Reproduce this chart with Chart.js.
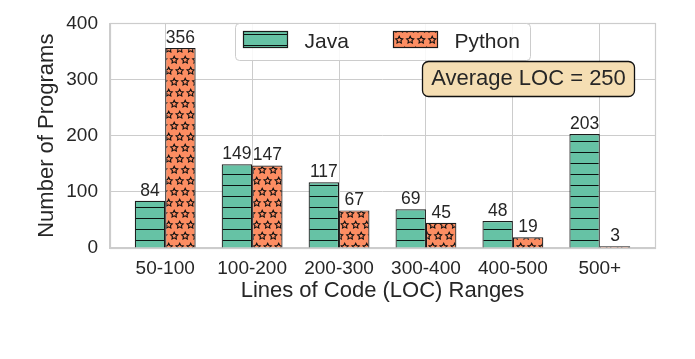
<!DOCTYPE html>
<html>
<head>
<meta charset="utf-8">
<script src="https://cdn.jsdelivr.net/npm/chart.js@4.4.0/dist/chart.umd.min.js"></script>
<style>
  html, body { margin: 0; padding: 0; background: #fff; }
  #wrap { width: 695px; height: 359px; }
</style>
</head>
<body>
<div id="wrap"><canvas id="chart" width="695" height="359"></canvas></div>
<script>
// data
const categories = ['50-100', '100-200', '200-300', '300-400', '400-500', '500+'];
const javaCounts = [84, 149, 117, 69, 48, 203];
const pythonCounts = [356, 147, 67, 45, 19, 3];
const yTicks = [0, 100, 200, 300, 400];
const seriesNames = ['Java', 'Python'];
const averageLoc = 250;

const FONT = '"Liberation Sans", Arial, sans-serif';
const TEXT = '#262626';
const GRID = '#cccccc';
const JAVA_COLOR = '#66c2a5';
const PYTHON_COLOR = '#fc8d62';

const canvas = document.getElementById('chart');
const ctx = canvas.getContext('2d');

// hatch '-' : horizontal lines every 11px
function linePattern(color, dx, dy) {
    const c = document.createElement('canvas');
    c.width = 11; c.height = 11;
    const g = c.getContext('2d');
    g.fillStyle = color;
    g.fillRect(0, 0, 11, 11);
    g.fillStyle = 'rgba(0,0,0,0.9)';
    g.fillRect(0, 9, 11, 1);
    const p = ctx.createPattern(c, 'repeat');
    if (dx || dy) p.setTransform(new DOMMatrix().translate(dx, dy));
    return p;
}

function drawStar(g, cx, cy, r) {
    g.beginPath();
    for (let k = 0; k < 10; k++) {
        const rr = k % 2 === 0 ? r : r * 0.5;
        const a = -Math.PI / 2 + k * Math.PI / 5;
        const x = cx + rr * Math.cos(a), y = cy + rr * Math.sin(a);
        if (k === 0) g.moveTo(x, y); else g.lineTo(x, y);
    }
    g.closePath();
    g.stroke();
}

// hatch '*' : staggered rows of star outlines
function starPattern(color, dx, dy) {
    const c = document.createElement('canvas');
    c.width = 11; c.height = 22;
    const g = c.getContext('2d');
    g.fillStyle = color;
    g.fillRect(0, 0, 11, 22);
    g.strokeStyle = '#111';
    g.lineWidth = 1.1;
    const pts = [[3.7, 5], [9.2, 16]];
    pts.forEach(([x, y]) => {
        for (let ox = -11; ox <= 11; ox += 11)
            for (let oy = -22; oy <= 22; oy += 22)
                drawStar(g, x + ox, y + oy, 3.7);
    });
    const p = ctx.createPattern(c, 'repeat');
    if (dx || dy) p.setTransform(new DOMMatrix().translate(dx, dy));
    return p;
}

const javaFill = linePattern(JAVA_COLOR);
const pythonFill = starPattern(PYTHON_COLOR);

// light grey frame around the plot area (all four spines)
const framePlugin = {
    id: 'frame',
    beforeDatasetsDraw(chart) {
        const a = chart.chartArea;
        const c = chart.ctx;
        c.save();
        c.strokeStyle = GRID;
        c.lineWidth = 1.2;
        c.strokeRect(Math.round(a.left) + 0.5, Math.round(a.top) + 0.5,
            Math.round(a.right - a.left), Math.round(a.bottom - a.top));
        c.restore();
    }
};

// value labels above every bar
const valueLabels = {
    id: 'valueLabels',
    afterDatasetsDraw(chart) {
        const c = chart.ctx;
        c.save();
        c.font = '17.5px ' + FONT;
        c.fillStyle = TEXT;
        c.textAlign = 'center';
        c.textBaseline = 'alphabetic';
        chart.data.datasets.forEach((ds, d) => {
            chart.getDatasetMeta(d).data.forEach((bar, i) => {
                c.fillText(String(ds.data[i].y), bar.x, bar.y - 5);
            });
        });
        c.restore();
    }
};

function roundRect(c, x, y, w, h, r) {
    c.beginPath();
    c.moveTo(x + r, y);
    c.arcTo(x + w, y, x + w, y + h, r);
    c.arcTo(x + w, y + h, x, y + h, r);
    c.arcTo(x, y + h, x, y, r);
    c.arcTo(x, y, x + w, y, r);
    c.closePath();
}

// legend box and the "Average LOC" note
const overlay = {
    id: 'overlay',
    afterDraw(chart) {
        const a = chart.chartArea;
        const c = chart.ctx;
        c.save();

        // legend (upper center)
        const lw = 295, lh = 37;
        const lx = Math.round((a.left + a.right) / 2 - lw / 2) + 0.5;
        const ly = Math.round(a.top) + 0.5;
        roundRect(c, lx, ly, lw, lh, 4);
        c.fillStyle = 'rgba(255,255,255,0.85)';
        c.fill();
        c.strokeStyle = GRID;
        c.lineWidth = 1;
        c.stroke();

        const swatches = [
            { dx: 8, fill: linePattern(JAVA_COLOR, 0, -8) },
            { dx: 158, fill: starPattern(PYTHON_COLOR, 5, 2) }
        ];
        c.font = '21px ' + FONT;
        c.textAlign = 'left';
        c.textBaseline = 'alphabetic';
        swatches.forEach((s, i) => {
            const sx = lx + s.dx, sy = ly + 8;
            c.fillStyle = s.fill;
            c.fillRect(sx, sy, 44, 16);
            c.strokeStyle = '#1a1a1a';
            c.lineWidth = 1.2;
            c.strokeRect(sx, sy, 44, 16);
            c.fillStyle = TEXT;
            c.fillText(seriesNames[i], sx + 61, ly + 24);
        });

        // annotation box
        const bw = 212, bh = 35;
        const bx = Math.round(a.right - 21 - bw) + 0.5;
        const by = Math.round(a.top + 38) + 0.5;
        roundRect(c, bx, by, bw, bh, 6);
        c.fillStyle = '#f5deb3';
        c.fill();
        c.strokeStyle = '#111';
        c.lineWidth = 1.3;
        c.stroke();
        c.fillStyle = TEXT;
        c.font = '22px ' + FONT;
        c.textAlign = 'center';
        c.fillText('Average LOC = ' + averageLoc, bx + bw / 2, by + 23.5);

        c.restore();
    }
};

new Chart(canvas, {
    type: 'bar',
    data: {
        datasets: [
            {
                label: seriesNames[0],
                data: javaCounts.map((v, i) => ({ x: i, y: v })),
                backgroundColor: javaFill,
                borderColor: '#1a1a1a',
                borderWidth: 1.2
            },
            {
                label: seriesNames[1],
                data: pythonCounts.map((v, i) => ({ x: i, y: v })),
                backgroundColor: pythonFill,
                borderColor: '#1a1a1a',
                borderWidth: 1.2
            }
        ]
    },
    options: {
        responsive: false,
        animation: false,
        devicePixelRatio: 1,
        categoryPercentage: 0.7,
        barPercentage: 1.0,
        layout: { padding: { top: 20, right: 40, bottom: 41, left: 0 } },
        plugins: {
            legend: { display: false },
            tooltip: { enabled: false }
        },
        scales: {
            x: {
                type: 'linear',
                offset: false,
                min: -0.635,
                max: categories.length - 1 + 0.635,
                afterBuildTicks: (s) => { s.ticks = categories.map((_, i) => ({ value: i })); },
                afterFit: (s) => { s.height = 70; },
                ticks: {
                    autoSkip: false,
                    maxRotation: 0,
                    padding: 9,
                    color: TEXT,
                    font: { family: FONT, size: 19 },
                    callback: (v) => categories[v]
                },
                grid: { color: GRID, lineWidth: 1, drawTicks: false, offset: false },
                border: { display: true, color: GRID, width: 1.2 },
                title: {
                    display: true,
                    text: 'Lines of Code (LOC) Ranges',
                    color: TEXT,
                    font: { family: FONT, size: 22 },
                    padding: { top: 0, bottom: 14 }
                }
            },
            y: {
                min: 0,
                max: 400,
                afterBuildTicks: (s) => { s.ticks = yTicks.map(v => ({ value: v })); },
                afterFit: (s) => { s.width = 110; },
                ticks: {
                    padding: 12,
                    color: TEXT,
                    font: { family: FONT, size: 19 }
                },
                grid: { color: GRID, lineWidth: 1, drawTicks: false },
                border: { display: true, color: GRID, width: 1.2 },
                title: {
                    display: true,
                    text: 'Number of Programs',
                    color: TEXT,
                    font: { family: FONT, size: 22 },
                    padding: { top: 34, bottom: 0 }
                }
            }
        }
    },
    plugins: [framePlugin, valueLabels, overlay]
});
</script>
</body>
</html>
